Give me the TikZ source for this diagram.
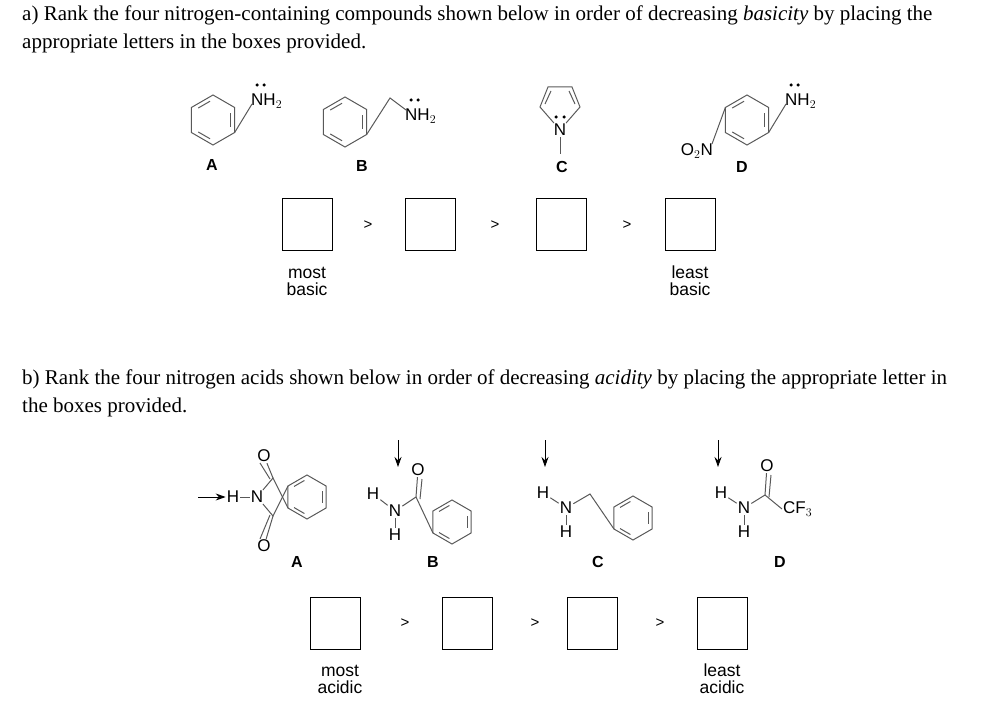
\documentclass[tikz,border=0pt]{standalone}
\usepackage{fontspec}
\setmainfont{Liberation Serif}
\setsansfont{Liberation Sans}
\usetikzlibrary{arrows.meta}
% benzene ring: center, radius, start angle
\newcommand{\benzring}[3]{%
  \draw[bond] ($(#1)+(#3:#2)$) \foreach \k in {1,...,5}{ -- ($(#1)+(#3+60*\k:#2)$)} -- cycle;
  \foreach \k in {0,2,4}{
    \draw[bond] ($(#1)+(#3+60*\k+9:0.76*#2)$) -- ($(#1)+(#3+60*\k+51:0.76*#2)$);}
}
\usetikzlibrary{calc}
\begin{document}
\begin{tikzpicture}[x=1pt,y=-1pt,
  bond/.style={line width=1pt,gray!70!black},
  atom/.style={font=\sffamily\fontsize{17}{17}\selectfont,inner sep=1pt},
  tag/.style={font=\sffamily\bfseries\fontsize{16}{16}\selectfont},
  title/.style={font=\fontsize{21}{28}\selectfont,anchor=north west,align=left,inner sep=0pt},
  slot/.style={draw,line width=0.8pt,minimum width=50pt,minimum height=52pt,inner sep=0pt},
  note/.style={font=\sffamily\fontsize{17.5}{17}\selectfont,align=center},
  gt/.style={font=\sffamily\fontsize{15}{15}\selectfont},
  lp/.style={circle,fill=black,inner sep=0pt,minimum size=3.5pt},
  pt/.style={-{Stealth[length=10pt,width=7pt]},line width=0.9pt}]
\useasboundingbox (0,0) rectangle (1006,703);

% part a
\node[title] (ta) at (22,6) {a) Rank the four nitrogen-containing compounds shown below in order of decreasing \textit{basicity} by placing the\\appropriate letters in the boxes provided.};

% A: aniline
\coordinate (rA) at (213,120);
\benzring{rA}{25}{90}
\node[atom,anchor=west] (nA) at (250,101) {NH$_2$};
\draw[bond] ($(rA)+(30:25)$) -- (252,104);
\node[lp] at (257,85) {}; \node[lp] at (264,85) {};
\node[tag] (lA) at (212,165) {A};

% B: benzylamine
\coordinate (rB) at (345,122);
\benzring{rB}{25}{90}
\draw[bond] ($(rB)+(30:25)$) -- (390,98) -- (406,110);
\node[atom,anchor=west] (nB) at (404,116) {NH$_2$};
\node[lp] at (411,100) {}; \node[lp] at (418,100) {};
\node[tag] (lB) at (362,166) {B};

% C: N-methylpyrrole
\coordinate (c1) at (540,107); \coordinate (c2) at (548,87);
\coordinate (c3) at (572,87);  \coordinate (c4) at (580,107);
\node[atom] (nC) at (560,130) {N};
\draw[bond] (nC) -- (c1) -- (c2) -- (c3) -- (c4) -- (nC);
\draw[bond] (545,104) -- (551,91);
\draw[bond] (575,104) -- (569,91);
\node[lp] at (556,117) {}; \node[lp] at (564,117) {};
\draw[bond] (nC) -- (560,154);
\node[tag] (lC) at (562,167) {C};

% D: 4-nitroaniline
\coordinate (rD) at (747,120);
\benzring{rD}{25}{90}
\draw[bond] ($(rD)+(30:25)$) -- (786,104);
\node[atom,anchor=west] (nD) at (784,101) {NH$_2$};
\node[lp] at (791,85) {}; \node[lp] at (798,85) {};
\draw[bond] ($(rD)+(210:25)$) -- (712,144);
\node[atom,anchor=east] (oD) at (714,151) {O$_2$N};
\node[tag] (lD) at (742,167) {D};

% ranking boxes a
\node[slot] (ba1) at (307,224) {};
\node[slot] (ba2) at (430,224) {};
\node[slot] (ba3) at (561,224) {};
\node[slot] (ba4) at (690,224) {};
\node[gt] at (368,225) {>}; \node[gt] at (495,225) {>}; \node[gt] at (627,225) {>};
\node[note] (mb) at (307,281) {most\\basic};
\node[note] (lb) at (690,281) {least\\basic};

% part b
\node[title] (tb) at (22,370) {b) Rank the four nitrogen acids shown below in order of decreasing \textit{acidity} by placing the appropriate letter in\\the boxes provided.};

% A: phthalimide
\node[atom] (nPA) at (257,497) {N};
\node[atom] (hPA) at (233,497) {H};
\draw[bond] (hPA) -- (nPA);
\coordinate (pa) at (198,497);
\draw[pt] (pa) -- (hPA);
\coordinate (rPA) at (307,497);
\benzring{rPA}{22}{90}
\coordinate (k1) at (273,478); \coordinate (k2) at (273,516);
\draw[bond] (nPA) -- (k1) -- ($(rPA)+(150:22)$);
\draw[bond] (nPA) -- (k2) -- ($(rPA)+(210:22)$);
\node[atom] (o1) at (264,456) {O};
\node[atom] (o2) at (264,546) {O};
\draw[bond] (k1) -- (o1); \draw[bond] ($(k1)+(-3,1)$) -- ($(o1)+(-4,7)$);
\draw[bond] (k2) -- (o2); \draw[bond] ($(k2)+(-3,-1)$) -- ($(o2)+(-4,-7)$);
\node[tag] (lPA) at (297,562) {A};

% B: benzamide
\coordinate (pb) at (398,440);
\node[atom] (hB1) at (373,494) {H};
\node[atom] (nB2) at (395,511) {N};
\node[atom] (hB2) at (395,535) {H};
\draw[pt] (pb) -- (398,467);
\draw[bond] (hB1) -- (nB2); \draw[bond] (nB2) -- (hB2);
\coordinate (cB) at (416,497);
\node[atom] (oB) at (418,470) {O};
\draw[bond] (nB2) -- (cB);
\draw[bond] (cB) -- (oB); \draw[bond] ($(cB)+(4,2)$) -- ($(oB)+(4,9)$);
\coordinate (rB2) at (452,522);
\benzring{rB2}{22}{90}
\draw[bond] (cB) -- ($(rB2)+(150:22)$);
\node[tag] (lPB) at (433,562) {B};

% C: benzylamine
\coordinate (pc) at (545,440);
\draw[pt] (pc) -- (545,467);
\node[atom] (hC1) at (543,493) {H};
\node[atom] (nC2) at (566,508) {N};
\node[atom] (hC2) at (566,532) {H};
\draw[bond] (hC1) -- (nC2); \draw[bond] (nC2) -- (hC2);
\coordinate (rC2) at (633,518);
\benzring{rC2}{22}{90}
\draw[bond] (nC2) -- (590,494) -- ($(rC2)+(150:22)$);
\node[tag] (lPC) at (598,562) {C};

% D: trifluoroacetamide
\coordinate (pd) at (718,440);
\draw[pt] (pd) -- (718,467);
\node[atom] (hD1) at (721,493) {H};
\node[atom] (nD2) at (744,508) {N};
\node[atom] (hD2) at (744,532) {H};
\draw[bond] (hD1) -- (nD2); \draw[bond] (nD2) -- (hD2);
\coordinate (cD) at (765,495);
\node[atom] (oD2) at (767,466) {O};
\draw[bond] (nD2) -- (cD);
\draw[bond] (cD) -- (oD2); \draw[bond] ($(cD)+(4,2)$) -- ($(oD2)+(4,9)$);
\node[atom,anchor=west] (cf) at (782,509) {CF$_3$};
\draw[bond] (cD) -- (cf.west);
\node[tag] (lPD) at (780,562) {D};

% ranking boxes b
\node[slot] (bb1) at (335,623) {};
\node[slot] (bb2) at (467,623) {};
\node[slot] (bb3) at (592,623) {};
\node[slot] (bb4) at (722,623) {};
\node[gt] at (405,623) {>}; \node[gt] at (535,623) {>}; \node[gt] at (660,623) {>};
\node[note] (ma) at (340,679) {most\\acidic};
\node[note] (la) at (722,679) {least\\acidic};
\end{tikzpicture}
\end{document}
